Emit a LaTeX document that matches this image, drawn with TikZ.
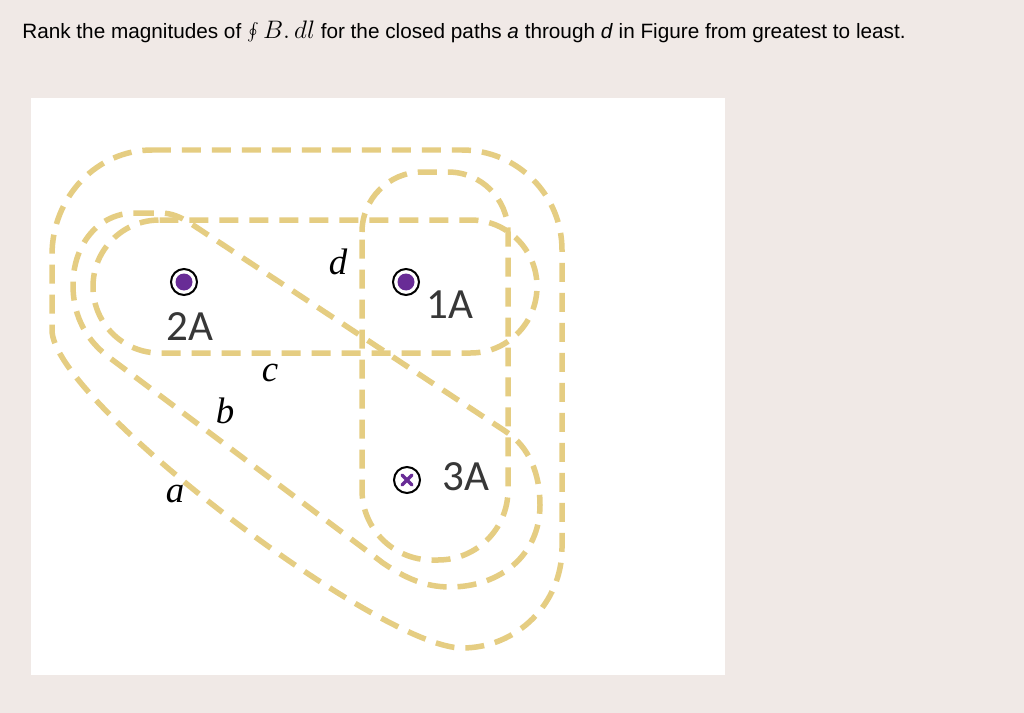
\documentclass[tikz,border=0pt]{standalone}
\usepackage{fontspec}
\setmainfont{Liberation Serif}
\setsansfont{Liberation Sans}
\newfontfamily\calfont{Carlito}
\definecolor{bgcol}{RGB}{240,233,230}
\definecolor{pathcol}{RGB}{229,205,130}
\definecolor{dotcol}{RGB}{104,44,150}
\definecolor{labcol}{RGB}{55,55,55}
\begin{document}
\begin{tikzpicture}[x=0.02cm,y=-0.02cm,
  loop/.style={draw=pathcol, line width=0.11cm, dash pattern=on 0.38cm off 0.22cm},
  cur/.style={font=\calfont\fontsize{24.5}{26}\selectfont, text=labcol, inner sep=0pt},
  plab/.style={font=\fontsize{21}{22}\selectfont\itshape, inner sep=0pt},
  ring/.style={circle, draw=black, line width=0.04cm, fill=white, minimum size=0.52cm, inner sep=0pt},
  dotin/.style={circle, fill=dotcol, minimum size=0.34cm, inner sep=0pt}]
\fill[bgcol] (0,0) rectangle (1024,713);
\useasboundingbox (0,0) rectangle (1024,713);
\fill[white] (31,98) rectangle (725,675);
% title
\node[anchor=base west, inner sep=0pt, font=\sffamily\fontsize{11.8}{13}\selectfont] (title) at (22,39)
  {Rank the magnitudes of {\fontsize{13.5}{14}\selectfont$\oint B.\,dl$} for the closed paths \textit{a} through \textit{d} in Figure from greatest to least.};
% path a
\draw[loop] (152,150) -- (462,150)
  .. controls (517.2,150) and (562,194.8) .. (562,250)
  -- (562,548)
  .. controls (562,603.2) and (517.2,648) .. (462,648)
  .. controls (380,648) and (52,400) .. (52,330)
  -- (52,255)
  .. controls (52,197) and (96.8,150) .. (152,150) -- cycle;
% path b
\draw[loop] (135,213) -- (160,213)
  .. controls (172,213) and (180,217) .. (190,223)
  -- (505,431)
  .. controls (530,447) and (540,475) .. (540,505)
  .. controls (540,555) and (500,587) .. (450,587)
  .. controls (425,587) and (405,578) .. (383,563)
  -- (110,358)
  .. controls (88,342) and (73,318) .. (73,285)
  .. controls (73,245) and (98,213) .. (135,213) -- cycle;
% path c
\draw[loop] (159.5,220) -- (470.5,220)
  .. controls (507.2,220) and (537,249.8) .. (537,286.5)
  .. controls (537,323.2) and (507.2,353) .. (470.5,353)
  -- (159.5,353)
  .. controls (122.8,353) and (93,323.2) .. (93,286.5)
  .. controls (93,249.8) and (122.8,220) .. (159.5,220) -- cycle;
% path d
\draw[loop] (362,232) .. controls (362,198.9) and (388.9,172) .. (422,172)
  -- (448,172) .. controls (481.1,172) and (508,198.9) .. (508,232)
  -- (508,490) .. controls (508,528.7) and (476.7,560) .. (438,560)
  -- (432,560) .. controls (393.3,560) and (362,528.7) .. (362,490) -- cycle;
% currents
\node[ring] (s2) at (184,282) {};
\node[dotin] (d2) at (s2.center) {};
\node[ring] (s1) at (406,282) {};
\node[dotin] (d1) at (s1.center) {};
\node[ring] (s3) at (407,480) {};
\draw[dotcol, line width=0.07cm, line cap=round] ([shift={(-5,-5)}]s3.center) -- ([shift={(5,5)}]s3.center);
\draw[dotcol, line width=0.07cm, line cap=round] ([shift={(-5,5)}]s3.center) -- ([shift={(5,-5)}]s3.center);
\node[cur] (l2) at (190,327) {2A};
\node[cur] (l1) at (450,305) {1A};
\node[cur] (l3) at (466,477) {3A};
% path labels
\node[plab] (la) at (175,494) {a};
\node[plab] (lb) at (225,411) {b};
\node[plab] (lc) at (270,373) {c};
\node[plab] (ld) at (338,262) {d};
\end{tikzpicture}
\end{document}
